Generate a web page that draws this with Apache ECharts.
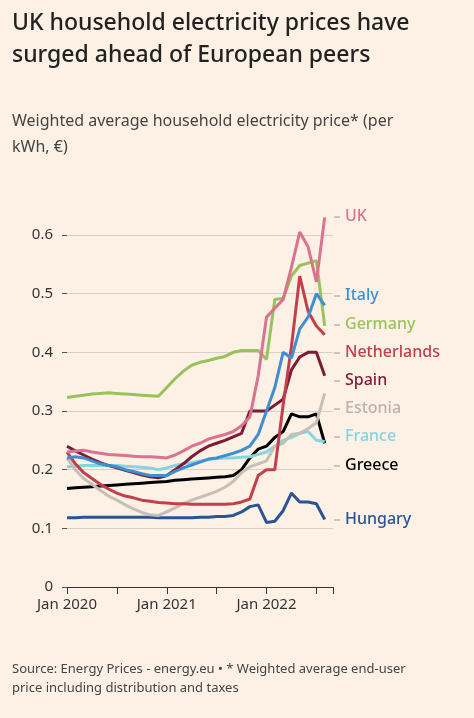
<!DOCTYPE html><html><head><meta charset="utf-8"><script src="https://cdn.jsdelivr.net/npm/echarts@6/dist/echarts.min.js"></script>
<style>body{margin:0;background:#fdf1e5}#c{width:474px;height:718px}</style></head><body><div id="c"></div><script>
const names=['UK','Italy','Germany','Netherlands','Spain','Estonia','France','Greece','Hungary'];
const colors=['#d9738e','#3f8fd0','#98c35c','#c1404c','#7b1b36','#c6bfb8','#86d4e0','#000000','#2a5595'];
const labelY=[217,296,325,353,381,409,437,466,520];
const xTicks=['Jan 2020','Jan 2021','Jan 2022'];
const uk=[0.23,0.232,0.233,0.23,0.228,0.226,0.225,0.224,0.223,0.222,0.222,0.221,0.22,0.225,0.232,0.24,0.245,0.252,0.256,0.26,0.265,0.275,0.29,0.36,0.46,0.475,0.49,0.545,0.605,0.58,0.52,0.63];
const italy=[0.22,0.222,0.22,0.215,0.21,0.207,0.205,0.2,0.197,0.193,0.19,0.19,0.19,0.197,0.203,0.208,0.213,0.218,0.22,0.224,0.228,0.233,0.24,0.26,0.3,0.34,0.4,0.39,0.44,0.46,0.5,0.48];
const germany=[0.323,0.325,0.327,0.329,0.33,0.331,0.33,0.329,0.328,0.327,0.326,0.325,0.34,0.355,0.368,0.378,0.383,0.386,0.39,0.393,0.4,0.403,0.403,0.403,0.388,0.49,0.492,0.53,0.548,0.552,0.556,0.445];
const nl=[0.23,0.21,0.195,0.185,0.175,0.167,0.16,0.155,0.152,0.148,0.146,0.144,0.143,0.142,0.142,0.141,0.141,0.141,0.141,0.141,0.142,0.145,0.15,0.19,0.2,0.2,0.31,0.41,0.53,0.47,0.445,0.43];
const spain=[0.24,0.232,0.225,0.218,0.212,0.207,0.203,0.199,0.195,0.191,0.188,0.186,0.19,0.2,0.21,0.222,0.232,0.24,0.245,0.25,0.256,0.262,0.3,0.3,0.3,0.31,0.32,0.37,0.392,0.4,0.4,0.36];
const estonia=[0.22,0.2,0.185,0.175,0.165,0.155,0.148,0.14,0.133,0.127,0.123,0.122,0.128,0.135,0.142,0.148,0.153,0.158,0.163,0.17,0.18,0.195,0.205,0.21,0.215,0.24,0.245,0.26,0.262,0.27,0.28,0.33];
const france=[0.205,0.206,0.207,0.207,0.207,0.207,0.207,0.206,0.205,0.204,0.203,0.2,0.203,0.207,0.21,0.212,0.215,0.217,0.219,0.22,0.22,0.221,0.222,0.226,0.23,0.24,0.25,0.255,0.262,0.265,0.25,0.248];
const greece=[0.168,0.169,0.17,0.171,0.172,0.173,0.174,0.175,0.176,0.177,0.178,0.179,0.18,0.182,0.183,0.184,0.185,0.186,0.187,0.188,0.19,0.2,0.22,0.235,0.24,0.255,0.265,0.295,0.29,0.29,0.295,0.245];
const hungary=[0.118,0.118,0.119,0.119,0.119,0.119,0.119,0.119,0.119,0.119,0.119,0.118,0.118,0.118,0.118,0.118,0.119,0.119,0.12,0.12,0.122,0.128,0.137,0.14,0.11,0.112,0.13,0.16,0.145,0.145,0.142,0.115];
const all=[uk,italy,germany,nl,spain,estonia,france,greece,hungary];
const ch=echarts.init(document.getElementById('c'));
const F='Noto Sans';
const graphic=[
{type:'text',left:12,top:7,style:{text:'UK household electricity prices have\nsurged ahead of European peers',font:'500 23px "Noto Sans"',fill:'#222',lineHeight:32}},
{type:'text',left:12,top:108,style:{text:'Weighted average household electricity price* (per\nkWh, €)',font:'16px "Noto Sans"',fill:'#444',lineHeight:26}},
{type:'text',left:12,top:660,style:{text:'Source: Energy Prices - energy.eu • * Weighted average end-user\nprice including distribution and taxes',font:'13px "Noto Sans"',fill:'#444',lineHeight:19}}
];
names.forEach((n,i)=>{
 graphic.push({type:'line',shape:{x1:334,y1:labelY[i],x2:340,y2:labelY[i]},style:{stroke:'#999',lineWidth:1}});
 graphic.push({type:'text',left:345,top:labelY[i]-9,style:{text:n,font:'500 16px "Noto Sans"',fill:colors[i]==='#c6bfb8'?'#bbb3ac':colors[i]}});
});
ch.setOption({backgroundColor:'#fdf1e5',animation:false,graphic,
grid:{left:67,right:141,top:235,bottom:131},
xAxis:{type:'value',min:0,max:32,interval:6,axisLine:{lineStyle:{color:'#333'}},axisTick:{show:true,length:7,lineStyle:{color:'#333'}},splitLine:{show:false},
 axisLabel:{fontFamily:F,fontSize:15,color:'#333',margin:10,formatter:v=>v%12===0&&v<=24?xTicks[v/12]:''}},
yAxis:{type:'value',min:0,max:0.6,interval:0.1,axisLabel:{fontFamily:F,fontSize:15,color:'#333',margin:14,formatter:v=>v===0?'0':v.toFixed(1)},splitLine:{lineStyle:{color:'#d8cfc6'}},axisLine:{show:false}},
series:all.map((d,i)=>({type:'line',name:names[i],data:d.map((v,j)=>[j,v]),symbol:'none',clip:false,z:10-i,lineStyle:{color:colors[i],width:3}}))});
</script></body></html>
